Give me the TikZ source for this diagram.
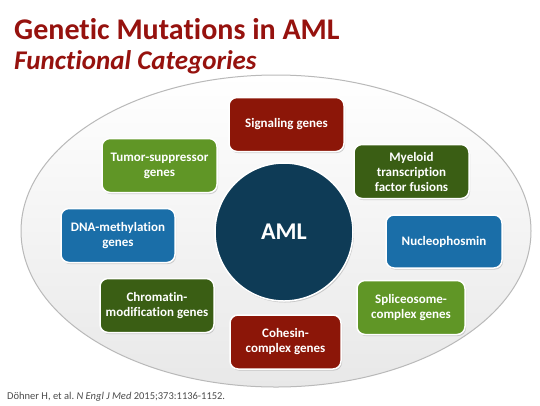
\documentclass[tikz,border=0pt]{standalone}
\usepackage{fontspec}
\setmainfont{Carlito}[Ligatures={NoCommon}]
\usetikzlibrary{shapes.geometric, shadows}

\definecolor{titlered}{RGB}{150,18,14}
\definecolor{catred}{RGB}{140,22,8}
\definecolor{catgreen}{RGB}{96,150,38}
\definecolor{catdkgreen}{RGB}{58,94,20}
\definecolor{catblue}{RGB}{26,110,168}
\definecolor{amlnavy}{RGB}{14,59,86}

\begin{document}
\begin{tikzpicture}[x=1pt, y=-1pt,
  catbox/.style={draw=white, line width=1.5pt, rounded corners=8pt, text=white,
    font=\bfseries\fontsize{13}{15}\selectfont, align=center,
    minimum width=114pt, minimum height=54pt, inner sep=2pt,
    drop shadow={shadow xshift=1pt, shadow yshift=-1.5pt, opacity=0.35}}]

  \fill[white] (0,0) rectangle (540,405);
  \useasboundingbox (0,0) rectangle (540,405);

  % titles
  \node[anchor=base west, inner sep=0pt, text=titlered,
    font=\bfseries\fontsize{30}{32}\selectfont] (title) at (14,39) {Genetic Mutations in AML};
  \node[anchor=base west, inner sep=0pt, text=titlered,
    font=\bfseries\itshape\fontsize{27}{30}\selectfont] (subtitle) at (14,69) {Functional Categories};

  % outer ellipse
  \node[ellipse, draw=gray!55, line width=1pt, top color=white, bottom color=gray!18,
    minimum width=510pt, minimum height=312pt] (frame) at (276,231) {};

  % centre
  \node[circle, fill=amlnavy, draw=white, line width=1.5pt, minimum size=138pt,
    text=white, font=\bfseries\fontsize{24}{28}\selectfont,
    drop shadow={shadow xshift=1pt, shadow yshift=-1.5pt, opacity=0.35}] (aml) at (284,232) {AML};

  % categories
  \node[catbox, fill=catred, minimum width=115pt] (signal) at (286.5,124.5) {Signaling genes};
  \node[catbox, fill=catgreen, minimum width=115pt] (tumor) at (159.5,165.5) {Tumor-suppressor\\genes};
  \node[catbox, fill=catdkgreen, minimum width=115pt] (myeloid) at (411.5,171.5) {Myeloid\\transcription\\factor fusions};
  \node[catbox, fill=catblue] (dna) at (118,235.5) {DNA-methylation\\genes};
  \node[catbox, fill=catblue, minimum width=116pt, minimum height=53pt] (npm) at (444,241.5) {Nucleophosmin};
  \node[catbox, fill=catdkgreen] (chrom) at (157,305.5) {Chromatin-\\modification genes};
  \node[catbox, fill=catgreen, minimum width=108pt] (splice) at (411,307.5) {Spliceosome-\\complex genes};
  \node[catbox, fill=catred, minimum width=111pt] (cohesin) at (285.5,342) {Cohesin-\\complex genes};

  % reference
  \node[anchor=base west, inner sep=0pt, text=black!70,
    font=\fontsize{10.5}{12}\selectfont] (ref) at (7,399) {Döhner H, et al.\ \textit{N Engl J Med} 2015;373:1136-1152.};

\end{tikzpicture}
\end{document}
